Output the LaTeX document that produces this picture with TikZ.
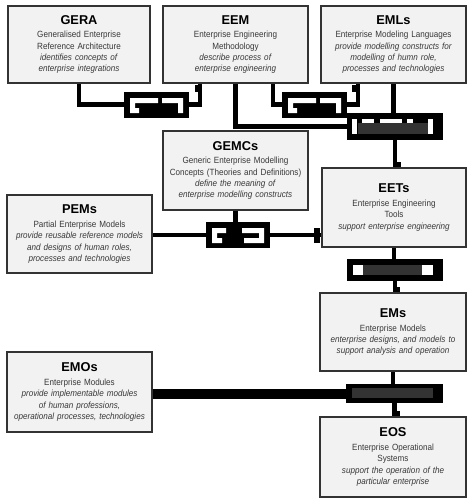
\documentclass[tikz,border=0pt]{standalone}
\usepackage{fontspec}
\setmainfont{Liberation Sans}
\newfontfamily\bodyf[FakeStretch=0.9]{Liberation Sans}
\newfontfamily\titlef{Liberation Sans}
\newcommand\ttl[1]{{\color{black}\titlef\bfseries\fontsize{12.8}{13}\selectfont #1}\\[2.5pt]}
\begin{document}
\begin{tikzpicture}[x=1pt,y=-1pt,
  box/.style={draw=black!80, line width=2.6pt, fill=black!5, inner sep=0pt,
    align=center, text=black!78, font=\bodyf\fontsize{9}{11.3}\selectfont},
  conn/.style={line width=4.8pt, black},
  junc/.style={fill=black, draw=none, inner sep=0pt},
  notch/.style={fill=white, draw=none},
  core/.style={fill=black!80, draw=none},
  nub/.style={fill=black, draw=none}]
\useasboundingbox (0,0) rectangle (474,503);

% boxes
\node[box, minimum width=142pt, minimum height=77pt, text width=140pt] (gera) at (79,44.5)
  {\ttl{GERA}Generalised Enterprise\\ Reference Architecture\\ \textit{identifies concepts of}\\ \textit{enterprise integrations}};
\node[box, minimum width=145pt, minimum height=77pt, text width=143pt] (eem) at (235.5,44.5)
  {\ttl{EEM}Enterprise Engineering\\ Methodology\\ \textit{describe process of}\\ \textit{enterprise engineering}};
\node[box, minimum width=145pt, minimum height=77pt, text width=143pt] (emls) at (393.5,44.5)
  {\ttl{EMLs}Enterprise Modeling Languages\\ \textit{provide modelling constructs for}\\ \textit{modelling of humn role,}\\ \textit{processes and technologies}};
\node[box, minimum width=145pt, minimum height=79pt, text width=143pt] (gemcs) at (235.5,170.5)
  {\ttl{GEMCs}Generic Enterprise Modelling\\ Concepts (Theories and Definitions)\\ \textit{define the meaning of}\\ \textit{enterprise modelling constructs}};
\node[box, minimum width=144pt, minimum height=79pt, text width=142pt] (eets) at (394,207.5)
  {\ttl{EETs}Enterprise Engineering\\ Tools\\ \textit{support enterprise engineering}};
\node[box, minimum width=145pt, minimum height=78pt, text width=143pt] (pems) at (79.5,234)
  {\ttl{PEMs}Partial Enterprise Models\\ \textit{provide reusable reference models}\\ \textit{and designs of human roles,}\\ \textit{processes and technologies}};
\node[box, minimum width=146pt, minimum height=78pt, text width=144pt] (ems) at (393,332)
  {\ttl{EMs}Enterprise Models\\ \textit{enterprise designs, and models to}\\ \textit{support analysis and operation}};
\node[box, minimum width=145pt, minimum height=80pt, text width=143pt] (emos) at (79.5,392)
  {\ttl{EMOs}Enterprise Modules\\ \textit{provide implementable modules}\\ \textit{of human professions,}\\ \textit{operational processes, technologies}};
\node[box, minimum width=146pt, minimum height=80pt, text width=144pt] (eos) at (393,457)
  {\ttl{EOS}Enterprise Operational\\ Systems\\ \textit{support the operation of the}\\ \textit{particular enterprise}};

% junctions
\node[junc, minimum width=65pt, minimum height=26pt] (j1) at (156.5,104.5) {};
\node[junc, minimum width=65pt, minimum height=26pt] (j2) at (314.5,104.5) {};
\node[junc, minimum width=96pt, minimum height=27pt] (j3) at (395,126.5) {};
\node[junc, minimum width=64pt, minimum height=26pt] (j4) at (238,235) {};
\node[junc, minimum width=96pt, minimum height=22pt] (j5) at (395,270) {};
\node[junc, minimum width=97pt, minimum height=19pt] (j6) at (394.5,393.5) {};

% connectors
\draw[conn] (gera.south) |- (j1.west);
\draw[conn] ([xshift=-35.5pt]eem.south) |- (j1.east);
\draw[conn] ([xshift=37.5pt]eem.south) |- (j2.west);
\draw[conn] ([xshift=-35.5pt]emls.south) |- (j2.east);
\draw[conn] (eem.south) |- (j3.west);
\draw[conn] (emls.south) -- (emls.south |- j3.north);
\draw[conn] (j3.south) -- (j3.south |- eets.north);
\draw[conn] (gemcs.south) -- (gemcs.south |- j4.north);
\draw[conn] (j4.west -| pems.east) -- (j4.west);
\draw[conn] (j4.east) -- (j4.east -| eets.west);
\draw[conn] (eets.south) -- (eets.south |- j5.north);
\draw[conn] (j5.south) -- (j5.south |- ems.north);
\draw[conn] (ems.south) -- (ems.south |- j6.north);
\draw[conn, line width=10pt] (j6.west -| emos.east) -- (j6.west);
\draw[conn] (j6.south) -- (j6.south |- eos.north);

% small marks on connectors
\fill[nub] (195,85) rectangle (202,92);
\fill[nub] (352,85) rectangle (359,92);
\fill[nub] (393,162) rectangle (401,167);
\fill[nub] (314,228) rectangle (320,243);
\fill[nub] (393,287) rectangle (400,292);
\fill[nub] (393,411) rectangle (400,416);

% junction details
\fill[notch] (130,98) -- (158,98) -- (158,103) -- (135,103) -- (135,108) -- (139,108) -- (139,113) -- (130,113) -- cycle;
\fill[notch] (162,98) -- (183,98) -- (183,113) -- (178,113) -- (178,103) -- (162,103) -- cycle;
\fill[notch] (288,98) -- (316,98) -- (316,103) -- (293,103) -- (293,108) -- (297,108) -- (297,113) -- (288,113) -- cycle;
\fill[notch] (320,98) -- (341,98) -- (341,113) -- (336,113) -- (336,103) -- (320,103) -- cycle;

\fill[core] (358,123) rectangle (428,134);
\fill[notch] (352,119) rectangle (357,134);
\fill[notch] (362,119) rectangle (374,123);
\fill[notch] (380,119) rectangle (402,123);
\fill[notch] (407,119) rectangle (413,123);
\fill[notch] (428,119) rectangle (433,134);

\fill[notch] (212,228) -- (226,228) -- (226,233) -- (217,233) -- (217,238) -- (222,238) -- (222,243) -- (212,243) -- cycle;
\fill[notch] (242,228) -- (264,228) -- (264,243) -- (244,243) -- (244,238) -- (259,238) -- (259,233) -- (242,233) -- cycle;

\fill[notch] (353,265) rectangle (363,275);
\fill[core] (363,265) rectangle (422,275);
\fill[notch] (422,265) rectangle (433,275);

\fill[core] (352,388) rectangle (433,398);
\end{tikzpicture}
\end{document}
